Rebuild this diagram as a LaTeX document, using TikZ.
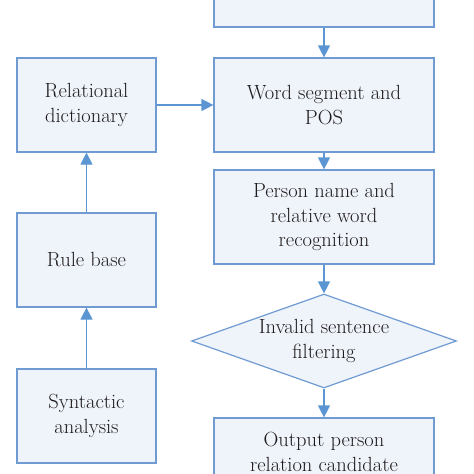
\documentclass[tikz,border=0pt]{standalone}
\usetikzlibrary{shapes.geometric,arrows.meta}
\definecolor{bordercol}{HTML}{6F9BD2}
\definecolor{fillcol}{HTML}{EFF3FA}
\definecolor{arrowcol}{HTML}{5B96D3}
\definecolor{textcol}{HTML}{1E1B1C}
\begin{document}
\begin{tikzpicture}[x=1pt,y=-1pt,
  txt/.style={align=center, font=\fontsize{20.5}{24.5}\selectfont, text=textcol},
  box/.style={draw=bordercol, fill=fillcol, line width=1.2pt, minimum height=94pt, inner sep=0pt, txt},
  wide/.style={box, minimum width=220pt},
  narrow/.style={box, minimum width=139pt},
  flow/.style={draw=arrowcol, line width=1.2pt, -{Triangle[width=12pt,length=12pt]}}]
\useasboundingbox (0,0) rectangle (474,474);
\clip (0,0) rectangle (474,474);
\node[wide] (top) at (324,-20) {};
\node[wide] (word) at (324,105) {Word segment and\\POS};
\node[narrow] (dict) at (86.5,105) {Relational\\dictionary};
\node[wide] (person) at (324,217) {Person name and\\relative word\\recognition};
\node[narrow] (rule) at (86.5,260) {Rule base};
\node[narrow] (syn) at (86.5,416) {Syntactic\\analysis};
\node[draw=bordercol, fill=fillcol, line width=1.2pt, diamond, minimum width=265pt, minimum height=94pt, inner sep=0pt,
  label={[txt]center:Invalid sentence\\filtering}] (filter) at (324,341) {};
\node[wide, label={[txt, yshift=13pt]center:Output person\\relation candidate}] (out) at (324,465) {};
\draw[flow] (top) -- (word);
\draw[flow] (dict) -- (word);
\draw[flow] (word) -- (person);
\draw[flow] (person) -- (filter);
\draw[flow] (filter) -- (out);
\draw[flow] (rule) -- (dict);
\draw[flow] (syn) -- (rule);
\end{tikzpicture}
\end{document}
